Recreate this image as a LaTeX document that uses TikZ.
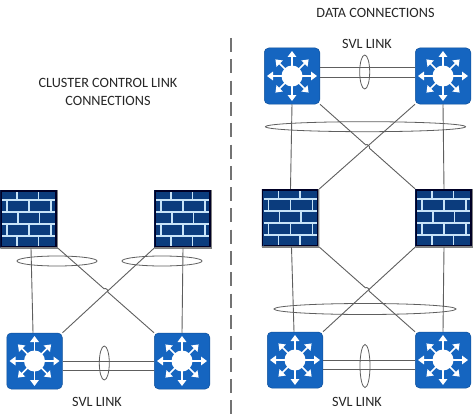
\documentclass[tikz,border=0pt]{standalone}
\usepackage{fontspec}
\setmainfont{Carlito}
\usetikzlibrary{calc,shapes.geometric,arrows.meta}
\definecolor{swblue}{HTML}{1565C0}
\definecolor{fwblue}{HTML}{0B3C7D}
\definecolor{brick}{HTML}{C8E4F8}
\definecolor{wire}{HTML}{5E5E5E}
\tikzset{
  wirel/.style={draw=wire,line width=0.9pt},
  ringn/.style={ellipse,draw=wire,line width=0.8pt,inner sep=0pt,fill=none},
  lab/.style={font=\fontsize{14.2}{16}\selectfont,text=black!85,inner sep=0pt,align=center},
  sarrow/.style={white,line width=1.7pt,-{Triangle[length=6pt,width=8.5pt]}},
  switchbox/.style={rectangle,rounded corners=4.5pt,fill=swblue,draw=swblue!80!black,line width=0.5pt,
    minimum width=55.5pt,minimum height=56pt,inner sep=0pt,
    path picture={
        \foreach \a in {0,90,180,270}{\draw[sarrow] (\a:8pt) -- (\a:25pt);}
        \foreach \a in {45,135,225,315}{\draw[sarrow] (\a:8pt) -- (\a:23.5pt);}
        \fill[white] (0,0) circle[radius=10.5pt];
    }},
  firebox/.style={rectangle,fill=fwblue,draw=none,
    minimum width=57.5pt,minimum height=58pt,inner sep=0pt,
    path picture={
        \draw[brick,line width=1.5pt]
          (-27,-19)--(27,-19) (-27,-7)--(27,-7) (-27,5)--(27,5) (-27,17)--(27,17)
          (-12,-29)--(-12,-19) (9.5,-29)--(9.5,-19)
          (-22,-19)--(-22,-7) (0,-19)--(0,-7) (22,-19)--(22,-7)
          (-11,-7)--(-11,5) (10.5,-7)--(10.5,5)
          (-22,5)--(-22,17) (0,5)--(0,17) (22,5)--(22,17)
          (-12,17)--(-12,29) (9.5,17)--(9.5,29);
        \draw[black!85!blue,line width=3.4pt] (-28.75,29) -- (-28.75,-29) -- (28.75,-29);
        \draw[black!85!blue,line width=1.2pt] (-27,27.2) -- (27,27.2) -- (27,-27);
        \draw[gray,line width=2.4pt] (-28.75,29) -- (28.75,29) -- (28.75,-29);
    }}
}
\newcommand{\hopline}[2]{\draw[wirel] (#1) -- ($(#1)!.48!(#2)$) to[bend left=80] ($(#1)!.52!(#2)$) -- (#2);}
\begin{document}
\begin{tikzpicture}[x=1pt,y=-1pt]
\useasboundingbox (0,0) rectangle (474,420);
% divider
\coordinate (dt) at (231,38);
\coordinate (db) at (231,414);
\draw[draw=gray!90!black,line width=1.2pt,dash pattern=on 14pt off 7.3pt] (dt) -- (db);
% right side nodes
\node[switchbox] (rs1) at (292,76) {};
\node[switchbox] (rs2) at (443,76) {};
\node[firebox] (rf1) at (290.5,218) {};
\node[firebox] (rf2) at (444,218) {};
\node[switchbox] (rs3) at (295,360) {};
\node[switchbox] (rs4) at (443,360) {};
% left side nodes
\node[firebox] (lf1) at (29,219) {};
\node[firebox] (lf2) at (183,219) {};
\node[switchbox] (ls1) at (34.5,361) {};
\node[switchbox] (ls2) at (182,361) {};
% right wires
\draw[wirel] (rs1.south) -- (rf1.north);
\draw[wirel] (rs2.south) -- (rf2.north);
\draw[wirel] (rs2.south west) -- (rf1.north east);
\hopline{rs1.south east}{rf2.north west}
\draw[wirel] ([xshift=1pt]rf1.south) -- ([xshift=-1pt]rs3.north);
\draw[wirel] (rf2.south) -- (rs4.north);
\draw[wirel] (rf2.south west) -- (rs3.north east);
\hopline{rf1.south east}{rs4.north west}
\draw[wirel] ([yshift=8.3pt]rs1.east) -- ([yshift=8.3pt]rs2.west);
\draw[wirel] ([yshift=-1.7pt]rs1.east) -- ([yshift=-1.7pt]rs2.west);
\draw[wirel] (rs3.east) -- (rs4.west);
\draw[wirel] ([yshift=-9pt]rs3.east) -- ([yshift=-9pt]rs4.west);
% left wires
\draw[wirel] ([xshift=2pt]lf1.south) -- ([xshift=-1.5pt]ls1.north);
\draw[wirel] (lf2.south) -- (ls2.north);
\draw[wirel] (lf2.south west) -- (ls1.north east);
\hopline{lf1.south east}{ls2.north west}
\draw[wirel] ([yshift=-.7pt]ls1.east) -- ([yshift=-.7pt]ls2.west);
\draw[wirel] ([yshift=-9pt]ls1.east) -- ([yshift=-9pt]ls2.west);
% rings
\node[ringn,minimum width=200pt,minimum height=10pt] (r1) at (365.5,126.7) {};
\node[ringn,minimum width=10pt,minimum height=34pt] (r2) at (364.7,72) {};
\node[ringn,minimum width=182pt,minimum height=11pt] (r3) at (365,309) {};
\node[ringn,minimum width=10pt,minimum height=43pt] (r4) at (365,366) {};
\node[ringn,minimum width=80pt,minimum height=10pt] (r5) at (57,261) {};
\node[ringn,minimum width=80pt,minimum height=10pt] (r6) at (162,261) {};
\node[ringn,minimum width=10pt,minimum height=34pt] (r7) at (104.3,363) {};
% labels
\node[lab] (t1) at (375.5,13) {DATA CONNECTIONS};
\node[lab] (t2) at (367,44) {SVL LINK};
\node[lab] (t3) at (357,402) {SVL LINK};
\node[lab] (t4) at (97,402) {SVL LINK};
\node[lab] (t5) at (108,92) {CLUSTER CONTROL LINK\\[1.3pt]CONNECTIONS};
\end{tikzpicture}
\end{document}
